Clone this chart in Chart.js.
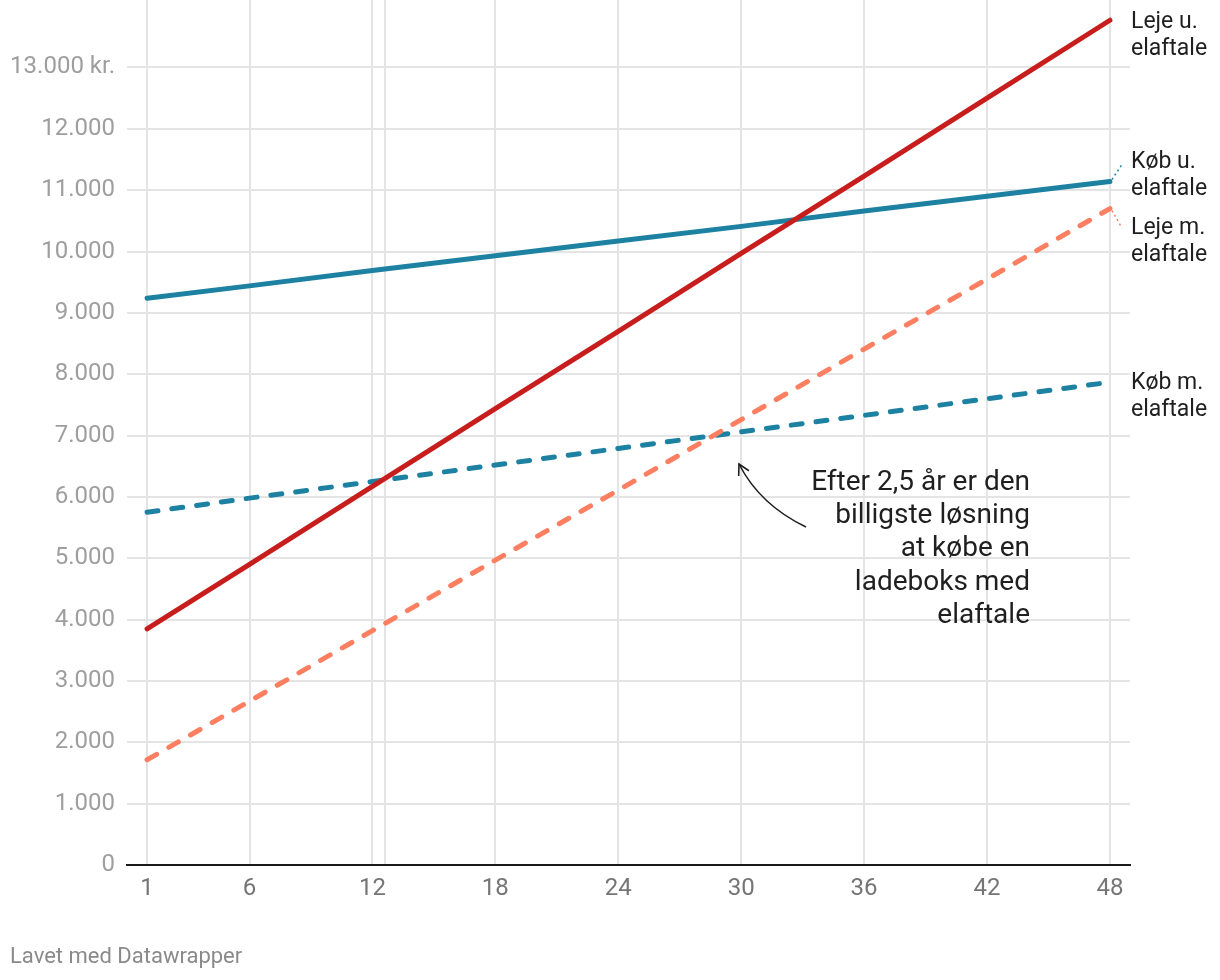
<!DOCTYPE html>
<html lang="da">
<head>
<meta charset="utf-8">
<title>Ladeboks: leje eller køb</title>
<script src="https://cdn.jsdelivr.net/npm/chart.js@4.4.1/dist/chart.umd.min.js"></script>
<style>
    html, body { margin: 0; padding: 0; background: #fff; }
    #wrap { width: 1220px; height: 980px; position: relative; }
</style>
</head>
<body>
<div id="wrap"><canvas id="ladeChart"></canvas></div>
<script>
        // Months (x) and cost in kr. (y)
        const months = [1, 6, 12, 18, 24, 30, 36, 42, 48];
        const lejeUden = [3850, 4900, 6170, 7440, 8700, 9970, 11230, 12500, 13770];
        const koebUden = [9240, 9440, 9690, 9930, 10170, 10410, 10660, 10900, 11140];
        const lejeMed = [1715, 2670, 3820, 4970, 6110, 7260, 8410, 9550, 10700];
        const koebMed = [5750, 5980, 6250, 6520, 6790, 7060, 7330, 7600, 7870];

        const xTicks = [1, 6, 12, 18, 24, 30, 36, 42, 48];
        const yTicks = [0, 1000, 2000, 3000, 4000, 5000, 6000, 7000, 8000, 9000, 10000, 11000, 12000, 13000];
        const yTickLabels = ['0', '1.000', '2.000', '3.000', '4.000', '5.000', '6.000', '7.000', '8.000', '9.000', '10.000', '11.000', '12.000', '13.000 kr.'];

        const seriesNames = [['Leje u.', 'elaftale'], ['Køb u.', 'elaftale'], ['Leje m.', 'elaftale'], ['Køb m.', 'elaftale']];
        const noteLines = ['Efter 2,5 år er den', 'billigste løsning', 'at købe en', 'ladeboks med', 'elaftale'];

        const RED = '#c71e1d';
        const BLUE = '#1d81a2';
        const SALMON = '#fd7f61';
        const FONT = 'Roboto, "Noto Sans", sans-serif';

        function toPoints(values) {
            return months.map((m, i) => ({ x: m, y: values[i] }));
        }

        // Labels at line ends, the note with its arrow, and the credit line
        const extrasPlugin = {
            id: 'extras',
            afterDatasetsDraw(chart) {
                const c = chart.ctx;
                const xs = chart.scales.x;
                const ys = chart.scales.y;
                const endX = xs.getPixelForValue(months[months.length - 1]);
                const labelX = 1131;
                const offsets = [2, -19, 20, 1];

                c.save();
                // small dotted connectors
                const connect = (dsIndex, tx, ty) => {
                    const ds = chart.data.datasets[dsIndex];
                    const last = ds.data[ds.data.length - 1];
                    const y0 = ys.getPixelForValue(last.y);
                    c.beginPath();
                    c.setLineDash([2, 3]);
                    c.lineWidth = 1.5;
                    c.strokeStyle = ds.borderColor;
                    c.moveTo(endX + 2, y0 + (ty > y0 ? 2 : -2));
                    c.lineTo(tx, ty);
                    c.stroke();
                    c.setLineDash([]);
                };
                connect(1, 1123, 163);
                connect(2, 1122, 228);

                c.fillStyle = '#1f1f1f';
                c.font = '23px ' + FONT;
                c.textAlign = 'left';
                c.textBaseline = 'middle';
                chart.data.datasets.forEach((ds, i) => {
                    const last = ds.data[ds.data.length - 1];
                    const y = ys.getPixelForValue(last.y) + offsets[i];
                    seriesNames[i].forEach((line, j) => {
                        c.fillText(line, labelX, y + j * 27);
                    });
                });

                // annotation text
                c.font = '28px ' + FONT;
                c.textAlign = 'right';
                noteLines.forEach((line, j) => {
                    c.fillText(line, 1030, 483 + j * 33.2);
                });

                // curved arrow
                const sx = 806, sy = 527, cx = 760, cy = 505, ex = 739, ey = 464;
                c.beginPath();
                c.lineWidth = 1.6;
                c.strokeStyle = '#1f1f1f';
                c.moveTo(sx, sy);
                c.quadraticCurveTo(cx, cy, ex, ey);
                c.stroke();
                const ang = Math.atan2(ey - cy, ex - cx);
                const len = 12;
                c.beginPath();
                c.moveTo(ex - len * Math.cos(ang - 0.5), ey - len * Math.sin(ang - 0.5));
                c.lineTo(ex, ey);
                c.lineTo(ex - len * Math.cos(ang + 0.5), ey - len * Math.sin(ang + 0.5));
                c.stroke();

                // credit
                c.font = '22px ' + FONT;
                c.fillStyle = '#8a8a8a';
                c.textAlign = 'left';
                c.fillText('Lavet med Datawrapper', 10, 957);
                c.restore();
            }
        };

        const ctx = document.getElementById('ladeChart').getContext('2d');
        const ladeChart = new Chart(ctx, {
            type: 'line',
            data: {
                datasets: [{
                    label: 'Leje u. elaftale',
                    data: toPoints(lejeUden),
                    borderColor: RED,
                    borderWidth: 5,
                    borderCapStyle: 'round'
                }, {
                    label: 'Køb u. elaftale',
                    data: toPoints(koebUden),
                    borderColor: BLUE,
                    borderWidth: 5,
                    borderCapStyle: 'round'
                }, {
                    label: 'Leje m. elaftale',
                    data: toPoints(lejeMed),
                    borderColor: SALMON,
                    borderWidth: 5,
                    borderCapStyle: 'round',
                    borderDash: [11, 14]
                }, {
                    label: 'Køb m. elaftale',
                    data: toPoints(koebMed),
                    borderColor: BLUE,
                    borderWidth: 5,
                    borderCapStyle: 'round',
                    borderDash: [11, 14]
                }]
            },
            options: {
                responsive: true,
                maintainAspectRatio: false,
                animation: false,
                elements: {
                    point: { radius: 0, hoverRadius: 0 },
                    line: { tension: 0, fill: false }
                },
                layout: {
                    padding: { left: 0, right: 90, top: 0, bottom: 0 }
                },
                scales: {
                    x: {
                        type: 'linear',
                        min: 0.02,
                        max: 48.98,
                        afterBuildTicks: scale => {
                            scale.ticks = xTicks.concat([12.62]).sort((a, b) => a - b).map(v => ({ value: v }));
                        },
                        afterFit: scale => {
                            scale.height = 115;
                            scale.paddingLeft = 0;
                            scale.paddingRight = 0;
                        },
                        grid: { color: '#e4e4e4', lineWidth: 2, drawTicks: false },
                        border: { display: true, color: '#1a1a1a', width: 2 },
                        ticks: {
                            padding: 10,
                            color: '#757575',
                            font: { family: FONT, size: 24 },
                            maxRotation: 0,
                            autoSkip: false,
                            callback: value => xTicks.includes(value) ? String(value) : ''
                        }
                    },
                    y: {
                        min: 0,
                        max: 14100,
                        afterBuildTicks: scale => {
                            scale.ticks = yTicks.map(v => ({ value: v }));
                        },
                        afterFit: scale => {
                            scale.width = 127;
                            scale.paddingTop = 0;
                            scale.paddingBottom = 0;
                        },
                        grid: { color: '#e4e4e4', lineWidth: 2, drawTicks: false },
                        border: { display: false },
                        ticks: {
                            padding: 12,
                            color: '#9e9e9e',
                            font: { family: FONT, size: 24 },
                            autoSkip: false,
                            callback: (value, index) => yTickLabels[index]
                        }
                    }
                },
                plugins: {
                    legend: { display: false },
                    tooltip: { enabled: false }
                }
            },
            plugins: [extrasPlugin]
        });
</script>
</body>
</html>
